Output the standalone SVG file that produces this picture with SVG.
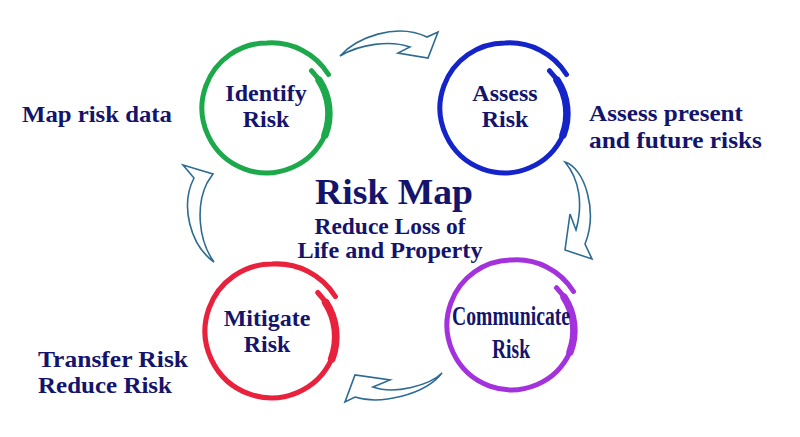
<svg xmlns="http://www.w3.org/2000/svg" xmlns:xlink="http://www.w3.org/1999/xlink" width="800" height="437" viewBox="0 0 800 437">
<style>
  .ring { fill: none; stroke-width: 5; stroke-linecap: round; }
  .thick { fill: none; stroke-width: 7.5; stroke-linecap: round; }
  .lbl { font-family: "Liberation Serif", "Times New Roman", serif; font-weight: bold; fill: #14146c; }
  .node { font-size: 24px; text-anchor: middle; }
  .side { font-size: 24px; }
  .arrow { fill: #ffffff; stroke: #2d6b92; stroke-width: 1.6; stroke-linejoin: miter; }
</style>
<defs>
  <path id="ringPath" d="M44.5,-37.3 A61,61 0 0 1 58,27 A64,64 0 0 1 -22.2,61.1 A65,65 0 0 1 -61.1,-22.2 A65,65 0 0 1 0,-65 A67,67 0 0 1 61.5,-33.5"/>
  <path id="thickPath" d="M52.1,-27.7 A61,61 0 0 1 58,27"/>
</defs>
<rect width="800" height="437" fill="#ffffff"/>

<g id="connectors">
  <path class="arrow" d="M340,56 C356,38 396,22 427,37 L438,32 L428,58 L398,53 L410,47 C390,40 360,44 340,56 Z"/>
  <path class="arrow" d="M565,162 C585,168 598,212 585,244 L592,259 L565,250 L570,214 L576,230 C583,205 580,180 565,162 Z"/>
  <path class="arrow" d="M442,373 C430,385 395,395 373,387 L390,380 L355,375 L345,402 L355,397 C380,405 425,395 442,373 Z"/>
  <path class="arrow" d="M214,262 C190,245 180,205 194,178 L183,165 L213,174 L207,183 C196,205 198,240 214,262 Z"/>
</g>

<g id="identify">
  <g transform="translate(267,108)" stroke="#1ea84c">
    <use xlink:href="#ringPath" href="#ringPath" class="ring"/>
    <use xlink:href="#thickPath" href="#thickPath" class="thick"/>
  </g>
  <text class="lbl node" x="266" y="101">Identify</text>
  <text class="lbl node" x="266" y="127">Risk</text>
</g>

<g id="assess">
  <g transform="translate(505,108)" stroke="#1424c8">
    <use xlink:href="#ringPath" href="#ringPath" class="ring"/>
    <use xlink:href="#thickPath" href="#thickPath" class="thick"/>
  </g>
  <text class="lbl node" x="505" y="101">Assess</text>
  <text class="lbl node" x="505" y="127">Risk</text>
</g>

<g id="mitigate">
  <g transform="translate(272,331) scale(1.03)" stroke="#e8223c">
    <use xlink:href="#ringPath" href="#ringPath" class="ring"/>
    <use xlink:href="#thickPath" href="#thickPath" class="thick"/>
  </g>
  <text class="lbl node" x="267" y="326">Mitigate</text>
  <text class="lbl node" x="267" y="352">Risk</text>
</g>

<g id="communicate">
  <g transform="translate(512,325)" stroke="#a432dc">
    <use xlink:href="#ringPath" href="#ringPath" class="ring"/>
    <use xlink:href="#thickPath" href="#thickPath" class="thick"/>
  </g>
  <text class="lbl node" x="511" y="325" style="font-size:28px" textLength="118" lengthAdjust="spacingAndGlyphs">Communicate</text>
  <text class="lbl node" x="511" y="358" style="font-size:27px" textLength="38" lengthAdjust="spacingAndGlyphs">Risk</text>
</g>

<g id="center">
  <text class="lbl" x="394" y="204" text-anchor="middle" style="font-size:35px" textLength="158" lengthAdjust="spacingAndGlyphs">Risk Map</text>
  <text class="lbl" x="390" y="234" text-anchor="middle" style="font-size:23px" textLength="151" lengthAdjust="spacingAndGlyphs">Reduce Loss of</text>
  <text class="lbl" x="390" y="258" text-anchor="middle" style="font-size:23px" textLength="185" lengthAdjust="spacingAndGlyphs">Life and Property</text>
</g>

<g id="map-risk-data">
  <text class="lbl side" x="22" y="122" textLength="150" lengthAdjust="spacingAndGlyphs">Map risk data</text>
</g>
<g id="assess-note">
  <text class="lbl side" x="589" y="121" textLength="154" lengthAdjust="spacingAndGlyphs">Assess present</text>
  <text class="lbl side" x="589" y="148" textLength="173" lengthAdjust="spacingAndGlyphs">and future risks</text>
</g>
<g id="mitigate-note">
  <text class="lbl side" x="38" y="367" textLength="150" lengthAdjust="spacingAndGlyphs">Transfer Risk</text>
  <text class="lbl side" x="38" y="393" textLength="134" lengthAdjust="spacingAndGlyphs">Reduce Risk</text>
</g>
</svg>
